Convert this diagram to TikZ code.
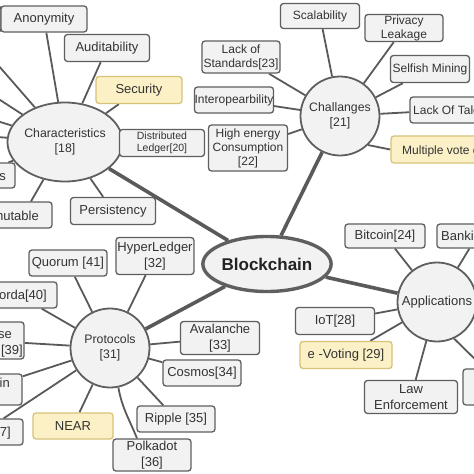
\documentclass[tikz,border=0pt]{standalone}
\usepackage{fontspec}
\setmainfont{Liberation Sans}
\usetikzlibrary{shapes.geometric}
\definecolor{bf}{RGB}{242,242,242}
\definecolor{bd}{RGB}{95,95,95}
\definecolor{tx}{RGB}{51,51,51}
\definecolor{yf}{RGB}{252,241,198}
\definecolor{yd}{RGB}{214,194,120}
\definecolor{ln}{RGB}{90,90,90}
\newcommand{\fz}[2]{\fontsize{#1pt}{#2pt}\selectfont}
\pgfdeclarelayer{bg}
\pgfsetlayers{bg,main}
\tikzset{
  bx/.style={draw=bd, fill=bf, line width=1.3pt, rounded corners=3pt, inner sep=0pt,
    align=center, text=tx, font=\fz{13}{15.5}, minimum width=79pt, minimum height=26pt},
  ybx/.style={bx, draw=yd, fill=yf},
  cbx/.style={bx, font=\fz{12}{14}},
  frag/.style={inner sep=0pt, text=tx, font=\fz{13}{15.5}},
  hub/.style={circle, draw=bd, fill=bf, line width=1.8pt, minimum size=79pt, inner sep=0pt,
    align=center, text=tx, font=\fz{12.3}{15}},
  lk/.style={draw=ln, line width=1.8pt},
  mlk/.style={draw=ln, line width=3.6pt},
}
\begin{document}
\begin{tikzpicture}[x=1pt,y=-1pt]
\useasboundingbox (0,0) rectangle (474,474);
\clip (0,0) rectangle (474,474);

% hubs
\node[hub, draw=bd, line width=3.4pt, ellipse, minimum width=120pt, minimum height=55pt,
  font=\fz{17}{20}\bfseries, text={rgb,255:red,34;green,34;blue,34}] (bc) at (267,264) {Blockchain};
\node[hub, ellipse, minimum width=96pt, minimum height=79pt] (ch) at (65,142) {Characteristics\\{}[18]};
\node[hub] (chal) at (340,116) {Challanges\\{}[21]};
\node[hub, font=\fz{13}{15}] (app) at (437,302) {Applications};
\node[hub] (proto) at (110,348) {Protocols\\{}[31]};

% characteristics
\node[bx, minimum width=86pt] (tl) at (-42,19) {};
\node[bx, minimum width=86pt] (anon) at (44,19) {Anonymity};
\node[bx, minimum width=85pt, minimum height=27pt] (aud) at (107,48) {Auditability};
\node[ybx, minimum width=86pt, minimum height=27pt] (sec) at (139,90) {Security};
\node[bx, minimum width=85pt, minimum height=27pt, font=\fz{10.5}{12.5}] (dl) at (162,143) {Distributed\\Ledger[20]};
\node[bx, minimum width=85pt, minimum height=27pt] (pers) at (113,211) {Persistency};
\node[bx, minimum width=86pt] (imm) at (9,215) {};
\node[frag, anchor=base east] (immt) at (39,220) {mutable};
\node[bx, minimum width=86pt, minimum height=25pt] (sbx) at (-28,175.5) {};
\node[frag, anchor=base east] (sbxt) at (6,180) {s};
\coordinate (cl2) at (-3,98);
\coordinate (cl3) at (-3,121);
\coordinate (cl4) at (-3,137);

% challenges
\node[cbx, minimum height=25pt] (scal) at (320,16) {Scalability};
\node[cbx, minimum width=78pt, minimum height=27pt] (priv) at (404,28) {Privacy\\Leakage};
\node[cbx, minimum height=27pt] (self) at (430,69) {Selfish Mining};
\node[cbx, minimum width=80pt] (tal) at (450,110) {};
\node[frag, font=\fz{12}{14}, anchor=base west] (talt) at (413,114.5) {Lack Of Tale};
\node[ybx, font=\fz{12}{14}, minimum width=100pt, minimum height=27pt] (mv) at (441,149.5) {};
\node[frag, font=\fz{12}{14}, anchor=base west] (mvt) at (402,154) {Multiple vote c};
\node[cbx, minimum width=78pt, minimum height=32pt] (std) at (241,57) {Lack of\\Standards[23]};
\node[cbx, minimum height=26pt] (inter) at (234,100) {Interopearbility};
\node[cbx, minimum height=46pt] (high) at (248,148) {High energy\\Consumption\\{}[22]};

% applications
\node[bx, minimum width=80pt, minimum height=24pt] (btc) at (385,236) {Bitcoin[24]};
\node[bx, minimum width=80pt, minimum height=24pt] (bank) at (477,236) {};
\node[frag, anchor=base west] (bankt) at (441,240.5) {Banki};
\node[bx, minimum height=27pt] (iot) at (335,321) {IoT[28]};
\node[ybx, minimum width=92pt, minimum height=27pt] (evot) at (346,355) {e -Voting [29]};
\node[bx, minimum width=93pt, minimum height=33pt] (law) at (411,397) {Law\\Enforcement};
\node[bx, minimum width=80pt, minimum height=36pt] (fbx) at (503,387) {};

% protocols
\node[bx, minimum width=78pt] (quo) at (68,263) {Quorum [41]};
\node[bx, minimum width=78pt, minimum height=37pt] (hyp) at (155,256) {HyperLedger\\{}[32]};
\node[bx, minimum width=78pt] (cor) at (18,295) {};
\node[frag, anchor=base east] (cort) at (47,299.5) {orda[40]};
\node[bx, minimum width=80pt, minimum height=37pt] (b39) at (-16,340.5) {};
\node[frag, anchor=base east] (b39a) at (12,338) {se};
\node[frag, anchor=base east] (b39b) at (23,354) {[39]};
\node[bx, minimum width=80pt, minimum height=31pt] (bin) at (-18,389.5) {};
\node[frag, anchor=base east] (bint) at (10,387.5) {in};
\node[bx, minimum width=80pt] (b37) at (-17,432) {};
\node[frag, anchor=base east] (b37t) at (11,436.5) {7]};
\node[ybx, minimum width=80pt] (near) at (73,426) {NEAR};
\node[bx, minimum width=79pt, minimum height=33pt] (ava) at (220,338) {Avalanche\\{}[33]};
\node[bx, minimum width=78pt] (cos) at (202,373) {Cosmos[34]};
\node[bx, minimum width=78pt] (rip) at (176,419) {Ripple [35]};
\node[bx, minimum width=78pt, minimum height=32pt] (polk) at (152,455) {Polkadot\\{}[36]};

\begin{pgfonlayer}{bg}
  \fill[white] (0,0) rectangle (474,474);
  \draw[mlk] (ch) -- (bc);
  \draw[mlk] (chal) -- (bc);
  \draw[mlk] (app) -- (bc);
  \draw[mlk] (proto) -- (bc);
  \foreach \n in {tl,anon,aud,sec,dl,pers,sbx} \draw[lk] (ch) -- (\n);
  \draw[lk] (ch) -- ([xshift=22pt]imm.north);
  \foreach \n in {cl2,cl3,cl4} \draw[lk] (ch) -- (\n);
  \foreach \n in {scal,priv,self,tal,std,inter,high} \draw[lk] (chal) -- (\n);
  \draw[lk] (chal.-46) -- (mv.west);
  \foreach \n in {btc,bank,iot,evot,law} \draw[lk] (app) -- (\n);
  \draw[lk] (app.-65) -- ([xshift=22pt]fbx.north west);
  \foreach \n in {quo,hyp,cor,b39,bin,b37,near,ava,cos,rip} \draw[lk] (proto) -- (\n);
  \draw[lk] (proto.-78) to[out=-80,in=112] ([xshift=-15pt]polk.north);
\end{pgfonlayer}
\end{tikzpicture}
\end{document}
